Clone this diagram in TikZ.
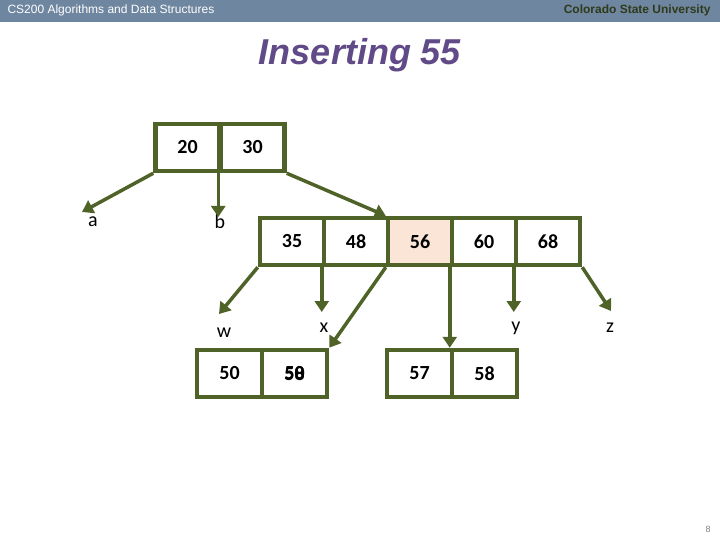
\documentclass[tikz,border=0pt]{standalone}
\usepackage{fontspec}
\setmainfont{Carlito}
\newfontfamily\hdr{Liberation Sans}
\usetikzlibrary{arrows.meta}
\definecolor{og}{HTML}{4F6228}
\definecolor{hbar}{HTML}{6F86A0}
\definecolor{ttl}{HTML}{604A87}
\definecolor{pk}{HTML}{FBE5D6}
\definecolor{uni}{HTML}{2E3A1A}
\tikzset{cell/.style={draw=og,line width=4.5pt,minimum width=64pt,minimum height=47pt,inner sep=0pt,font=\bfseries\fontsize{20}{20}\selectfont},
 arr/.style={draw=og,line width=3.5pt,-{Triangle[length=11pt,width=14pt]}},
 lab/.style={font=\fontsize{20}{20}\selectfont,inner sep=0pt}}
\begin{document}
\begin{tikzpicture}[x=1pt,y=-1pt]
\useasboundingbox (0,0) rectangle (720,540);
\fill[hbar] (0,0) rectangle (720,22);
\node[anchor=west,text=white,font=\hdr\fontsize{12}{12}\selectfont] (h1) at (4,10) {CS200 Algorithms and Data Structures};
\node[anchor=east,text=uni,font=\hdr\bfseries\fontsize{12}{12}\selectfont] (h2) at (714,10) {Colorado State University};
\node[text=ttl,font=\hdr\bfseries\itshape\fontsize{36}{36}\selectfont] (t) at (360,55) {Inserting 55};
% top
\node[cell] (r1) at (187.5,147.5) {20};
\node[cell] (r2) at (252.5,147.5) {30};
% middle
\node[cell] (m1) at (292,241.5) {35};
\node[cell] (m2) at (356,241.5) {48};
\node[cell,fill=pk] (m3) at (420,241.5) {56};
\node[cell] (m4) at (484,241.5) {60};
\node[cell] (m5) at (548,241.5) {68};
% bottom
\node[cell,minimum width=65pt] (b1) at (229.5,373.5) {50};
\node[cell,minimum width=65pt] (b2) at (294.5,373.5) {58};
\node[lab,font=\bfseries\fontsize{20}{20}\selectfont] (b2o) at (294.5,373.5) {50};
\node[cell,minimum width=65pt] (c1) at (419.5,373.5) {57};
\node[cell,minimum width=65pt] (c2) at (484.5,373.5) {58};
% labels
\node[lab] (la) at (93,222) {a};
\node[lab] (lb) at (220,222) {b};
\node[lab] (lw) at (224,333) {w};
\node[lab] (lx) at (324,328) {x};
\node[lab] (ly) at (516,328) {y};
\node[lab] (lz) at (610,328) {z};
\node[font=\hdr\fontsize{9}{9}\selectfont,text=gray] (pg) at (708,529) {8};
% arrows
\coordinate (ea) at (82,212);
\coordinate (eb) at (220,217);
\coordinate (ew) at (219,314);
\coordinate (ex) at (324,312);
\coordinate (ey) at (516,312);
\coordinate (ez) at (611,311);
\draw[arr] (r1.south west) -- (ea);
\draw[arr] (r2.south west) -- (r2.south west |- eb);
\draw[arr] (r2.south east) -- (m3.north west);
\draw[arr] (m1.south west) -- (ew);
\draw[arr] (m2.south west) -- (m2.south west |- ex);
\draw[arr] (m3.south west) -- (b2.north east);
\draw[arr] ([yshift=4pt]m4.south west) -- (c2.north west);
\draw[arr] (m5.south west) -- (m5.south west |- ey);
\draw[arr] (m5.south east) -- (ez);
\end{tikzpicture}
\end{document}
